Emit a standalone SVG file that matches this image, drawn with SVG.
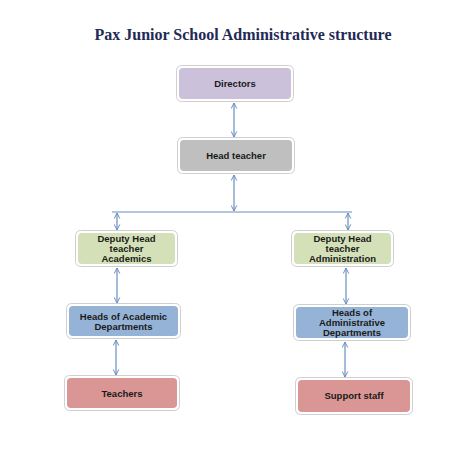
<svg xmlns="http://www.w3.org/2000/svg" width="474" height="466" viewBox="0 0 474 466">
<defs>
<style>
.frame{fill:#ffffff;stroke:#cfcfcf;stroke-width:1}
.lbl{font-family:"Liberation Sans",Arial,sans-serif;font-weight:bold;font-size:9.5px;fill:#1a1a1a;text-anchor:middle}
.title{font-family:"Liberation Serif","Times New Roman",serif;font-weight:bold;font-size:17px;fill:#1f2b55;text-anchor:middle}
.con{stroke:#6b8cc0;stroke-width:1.2;fill:none}
.purple{fill:#ccc1da}
.gray{fill:#bfbfbf}
.green{fill:#d4e0b8}
.blue{fill:#95b3d7}
.pink{fill:#d99694}
</style>
<marker id="ah" viewBox="0 0 10 10" refX="9" refY="5" markerWidth="7" markerHeight="7" orient="auto-start-reverse" markerUnits="userSpaceOnUse">
<path d="M1,1 L9,5 L1,9" fill="none" stroke="#6b8cc0" stroke-width="1.4"/>
</marker>
</defs>
<rect width="474" height="466" fill="#ffffff"/>
<text class="title" x="243" y="40" textLength="297" lengthAdjust="spacingAndGlyphs">Pax Junior School Administrative structure</text>

<g id="connectors">
<line class="con" x1="234" y1="103" x2="234" y2="137" marker-start="url(#ah)" marker-end="url(#ah)"/>
<line class="con" x1="234" y1="175" x2="234" y2="211" marker-start="url(#ah)" marker-end="url(#ah)"/>
<line class="con" x1="112" y1="212" x2="352" y2="212"/>
<line class="con" x1="117" y1="213" x2="117" y2="230" marker-start="url(#ah)" marker-end="url(#ah)"/>
<line class="con" x1="348" y1="213" x2="348" y2="230" marker-start="url(#ah)" marker-end="url(#ah)"/>
<line class="con" x1="117" y1="268" x2="117" y2="303" marker-start="url(#ah)" marker-end="url(#ah)"/>
<line class="con" x1="346" y1="268" x2="346" y2="304" marker-start="url(#ah)" marker-end="url(#ah)"/>
<line class="con" x1="116" y1="340" x2="116" y2="375" marker-start="url(#ah)" marker-end="url(#ah)"/>
<line class="con" x1="345" y1="342" x2="345" y2="377" marker-start="url(#ah)" marker-end="url(#ah)"/>
</g>

<g id="directors">
<rect class="frame" x="176.5" y="65.5" width="117" height="36" rx="5"/>
<rect class="purple" x="179" y="68" width="112" height="31" rx="4"/>
<text class="lbl" x="235" y="87">Directors</text>
</g>

<g id="head-teacher">
<rect class="frame" x="177.5" y="137.5" width="117" height="36" rx="5"/>
<rect class="gray" x="180" y="140" width="112" height="31" rx="4"/>
<text class="lbl" x="236" y="159">Head teacher</text>
</g>

<g id="deputy-academics">
<rect class="frame" x="75.5" y="230.5" width="102" height="36" rx="5"/>
<rect class="green" x="78" y="233" width="97" height="31" rx="4"/>
<text class="lbl" x="126.5" y="241.5">Deputy Head</text>
<text class="lbl" x="126.5" y="251.5">teacher</text>
<text class="lbl" x="126.5" y="261.5">Academics</text>
</g>

<g id="deputy-administration">
<rect class="frame" x="291.5" y="230.5" width="102" height="36" rx="5"/>
<rect class="green" x="294" y="233" width="97" height="31" rx="4"/>
<text class="lbl" x="342.5" y="241.5">Deputy Head</text>
<text class="lbl" x="342.5" y="251.5">teacher</text>
<text class="lbl" x="342.5" y="261.5">Administration</text>
</g>

<g id="heads-academic">
<rect class="frame" x="66.5" y="303.5" width="114" height="35" rx="5"/>
<rect class="blue" x="69" y="306" width="109" height="30" rx="4"/>
<text class="lbl" x="123.5" y="319.5">Heads of Academic</text>
<text class="lbl" x="123.5" y="329.5">Departments</text>
</g>

<g id="heads-administrative">
<rect class="frame" x="293.5" y="304.5" width="117" height="36" rx="5"/>
<rect class="blue" x="296" y="307" width="112" height="31" rx="4"/>
<text class="lbl" x="352" y="315.5">Heads of</text>
<text class="lbl" x="352" y="325.5">Administrative</text>
<text class="lbl" x="352" y="335.5">Departments</text>
</g>

<g id="teachers">
<rect class="frame" x="64.5" y="375.5" width="115" height="35" rx="5"/>
<rect class="pink" x="67" y="378" width="110" height="30" rx="4"/>
<text class="lbl" x="122" y="396.5">Teachers</text>
</g>

<g id="support-staff">
<rect class="frame" x="295.5" y="377.5" width="117" height="37" rx="5"/>
<rect class="pink" x="298" y="380" width="112" height="32" rx="4"/>
<text class="lbl" x="354" y="399">Support staff</text>
</g>
</svg>
